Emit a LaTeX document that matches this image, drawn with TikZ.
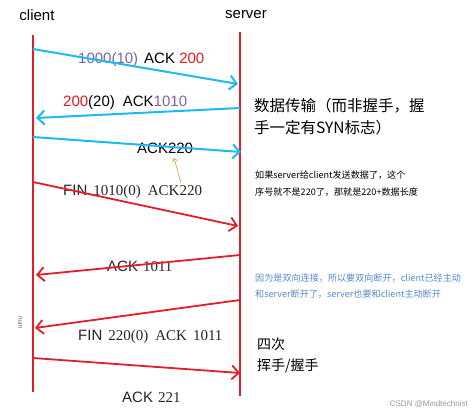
\documentclass[tikz,border=0pt]{standalone}
\usepackage{fontspec}
\setmainfont{Liberation Serif}
\setsansfont{Liberation Sans}
\newfontfamily\cjk{Noto Sans CJK SC}
\usetikzlibrary{arrows.meta}
\definecolor{lifered}{RGB}{228,30,40}
\definecolor{msgblue}{RGB}{30,185,240}
\definecolor{numpurple}{RGB}{125,100,165}
\definecolor{numred}{RGB}{230,25,30}
\definecolor{noteblue}{RGB}{80,140,210}
\definecolor{tipor}{RGB}{240,160,80}
\tikzset{
  lifeline/.style={draw=lifered, line width=1.8pt},
  bluemsg/.style={draw=msgblue, line width=2pt, -{Straight Barb[length=7pt,width=14pt,line width=2pt]}},
  redmsg/.style={draw=lifered, line width=1.8pt, -{Straight Barb[length=7pt,width=14pt,line width=1.8pt]}},
  lbl/.style={anchor=west, inner sep=0pt, font=\sffamily\fontsize{15}{17}\selectfont},
  hdr/.style={anchor=center, inner sep=0pt, font=\sffamily\fontsize{15}{17}\selectfont},
  bignote/.style={anchor=west, inner sep=0pt, font=\cjk\fontsize{15.5}{18}\selectfont},
  smallnote/.style={anchor=west, inner sep=0pt, font=\cjk\fontsize{9.1}{11}\selectfont},
}
\begin{document}
\begin{tikzpicture}[x=1pt,y=-1pt]
\useasboundingbox[fill=white] (0,0) rectangle (474,412);
% headers
\node[hdr] (hc) at (37,15) {client};
\node[hdr] (hs) at (246,15) {server};
% lifelines
\coordinate (ctop) at (33,35);
\coordinate (cbot) at (33,392);
\coordinate (stop) at (240,32);
\coordinate (sbot) at (240,396);
\draw[lifeline] (ctop) -- (cbot);
\draw[lifeline] (stop) -- (sbot);
% message end points
\coordinate (c1) at (33,49);   \coordinate (s1) at (238,84);
\coordinate (s2) at (240,108); \coordinate (c2) at (36,118);
\coordinate (c3) at (33,137);  \coordinate (s3) at (241,152);
\coordinate (c4) at (33,182);  \coordinate (s4) at (238,226);
\coordinate (s5) at (240,255); \coordinate (c5) at (36,275);
\coordinate (s6) at (240,300); \coordinate (c6) at (35,328);
\coordinate (c7) at (33,358);  \coordinate (s7) at (240,373);
% labels (under the arrows, drawn first)
\node[lbl] (l1) at (78,60) {\textcolor{numpurple}{1000(10)}\hspace{6pt}ACK \textcolor{numred}{200}};
\node[lbl] (l2) at (63,103) {\textcolor{numred}{200}(20)\hspace{8pt}ACK\textcolor{numpurple}{1010}};
\node[lbl] (l3) at (137,148) {ACK220};
\node[lbl,text=black!85] (l4) at (63,192) {FIN\hspace{6pt}\rmfamily 1010(0)\hspace{7pt}ACK220};
\node[lbl,text=black!85] (l5) at (107,266) {ACK\hspace{5pt}\rmfamily 1011};
\node[lbl,text=black!85] (l6) at (78,337) {FIN\hspace{6pt}\rmfamily 220(0)\hspace{7pt}ACK\hspace{6pt}1011};
\node[lbl,text=black!85] (l7) at (122,397) {ACK\hspace{5pt}\rmfamily 221};
% messages
\draw[bluemsg] (c1) -- (s1);
\draw[bluemsg] (s2) -- (c2);
\draw[bluemsg] (c3) -- (s3);
\draw[redmsg] (c4) -- (s4);
\draw[redmsg] (s5) -- (c5);
\draw[redmsg] (s6) -- (c6);
\draw[redmsg] (c7) -- (s7);
% orange pointer
\coordinate (o1) at (181,183);
\coordinate (o2) at (174,158);
\draw[draw=tipor, line width=0.7pt, -{Straight Barb[length=3pt,width=5pt]}] (o1) -- (o2);
% notes
\node[bignote] (n1) at (254,106) {数据传输（而非握手，握};
\node[bignote] (n2) at (254,128) {手一定有SYN标志）};
\node[smallnote] (n3) at (255,175) {如果server给client发送数据了，这个};
\node[smallnote] (n4) at (255,192) {序号就不是220了，那就是220+数据长度};
\node[smallnote,text=noteblue] (n5) at (255,278) {因为是双向连接，所以要双向断开，client已经主动};
\node[smallnote,text=noteblue] (n6) at (255,294) {和server断开了，server也要和client主动断开};
\node[bignote,font=\cjk\fontsize{14}{16}\selectfont] (n7) at (257,344) {四次};
\node[bignote,font=\cjk\fontsize{14}{16}\selectfont] (n8) at (257,366) {挥手/握手};
\node[anchor=center, inner sep=0pt, rotate=-90, text=black!60, font=\sffamily\fontsize{6.5}{7}\selectfont] (side) at (20,323) {num};
\node[anchor=east, inner sep=0pt, text=black!40, font=\sffamily\fontsize{8}{9}\selectfont] (wm) at (468,404) {CSDN @Mindtechnist};
\end{tikzpicture}
\end{document}
